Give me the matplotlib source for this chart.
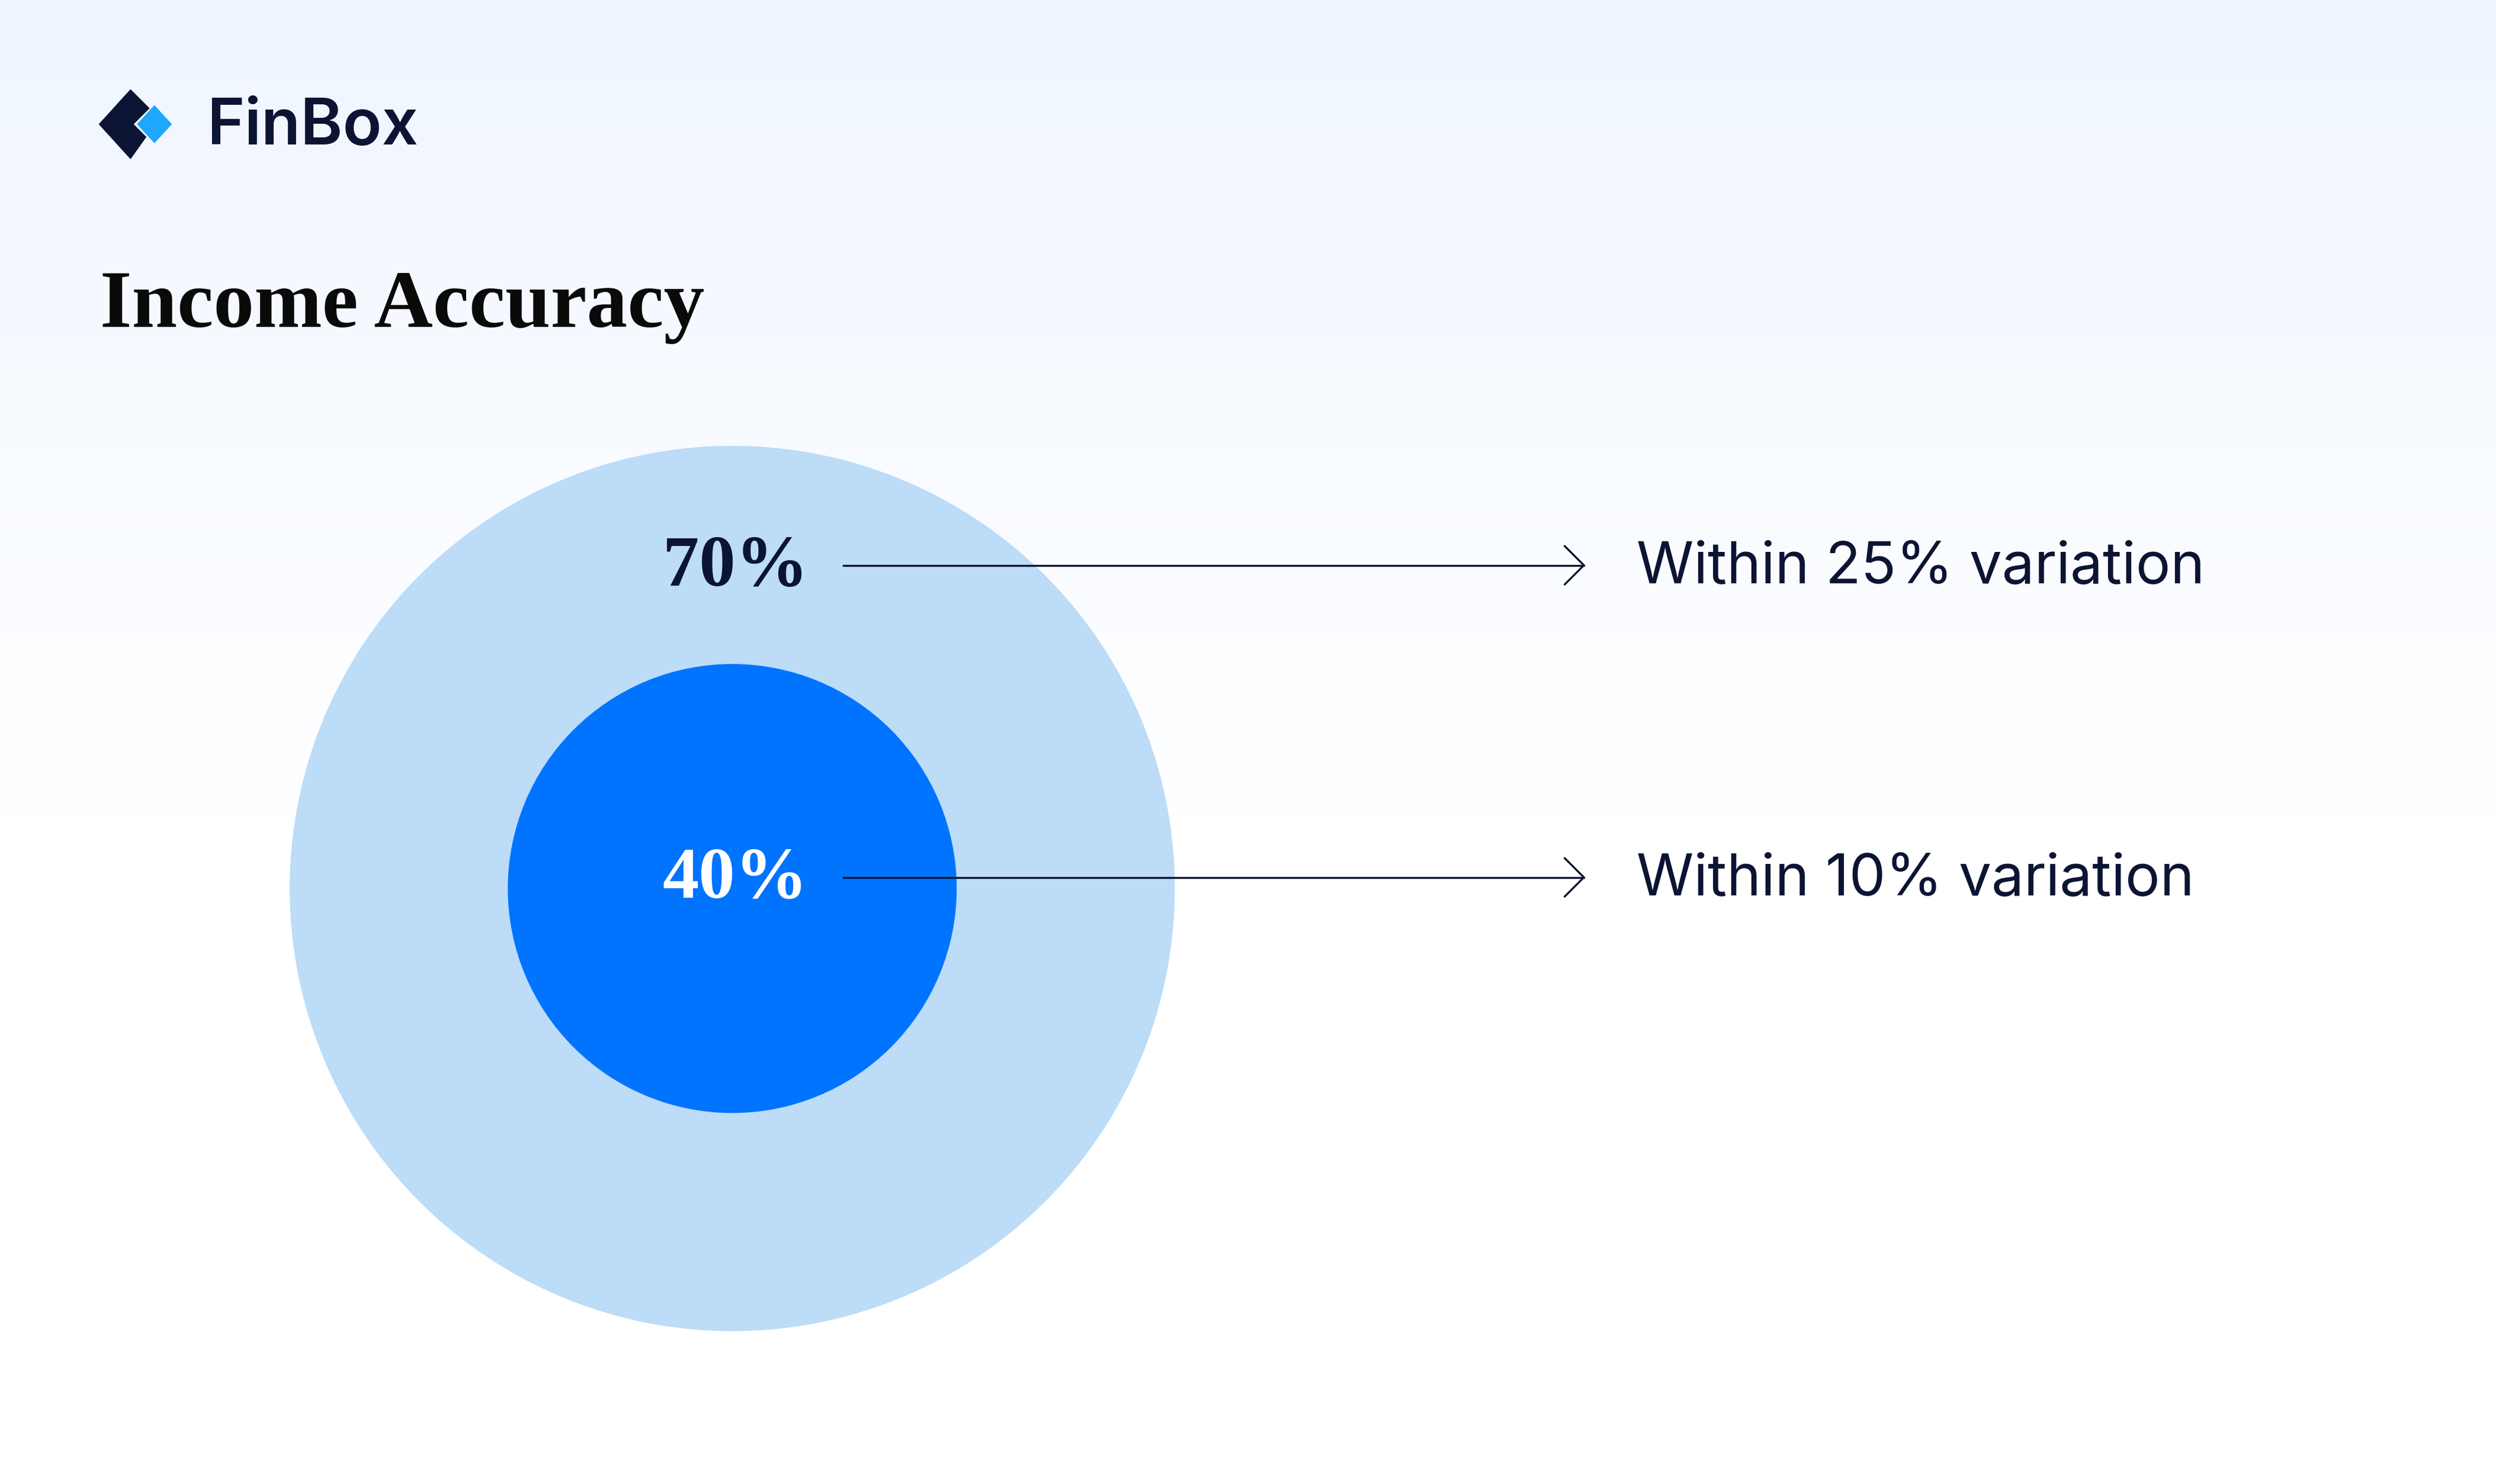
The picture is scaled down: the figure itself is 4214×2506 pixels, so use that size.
import numpy as np
import matplotlib
matplotlib.use("Agg")
import matplotlib.pyplot as plt
from matplotlib.patches import Circle, Polygon

title = "Income Accuracy"
brand = "FinBox"
values = ["70%", "40%"]
descriptions = ["Within 25% variation", "Within 10% variation"]

W, H = 1568, 932
fig = plt.figure(figsize=(4214/300, 2506/300), dpi=300)
ax = fig.add_axes([0, 0, 1, 1])
ax.set_xlim(0, W); ax.set_ylim(H, 0); ax.axis("off")

g = np.linspace(0, 1, 200)[:, None]
top = np.array([0.94, 0.965, 1.0]); bot = np.array([1, 1, 1])
t = np.clip(g / 0.55, 0, 1)
img = (top * (1 - t)[..., None] + bot * t[..., None]) * np.ones((1, 2, 1))
ax.imshow(img, extent=[0, W, H, 0], aspect="auto", zorder=0)

navy = "#0b1433"
cx, cy = 460, 558
radii = [278, 141]
colors = ["#bcdcf8", "#0074ff"]
label_y = [355, 551]
txt_colors = [navy, "white"]
for r, c in zip(radii, colors):
    ax.add_patch(Circle((cx, cy), r, color=c, zorder=1, lw=0))
for v, d, y, tc in zip(values, descriptions, label_y, txt_colors):
    ax.text(cx + 2, y + 2, v, ha="center", va="center", fontsize=29.5, fontweight="bold",
            family="Liberation Serif", color=tc, zorder=3)
    ax.plot([530, 995], [y, y], color=navy, lw=0.8, zorder=2)
    ax.plot([983, 995, 983], [y - 12, y, y + 12], color=navy, lw=0.8, zorder=2)
    ax.text(1028, y + 2, d, ha="left", va="center", fontsize=23.5, family="Inter",
            color=navy, zorder=3)

ax.text(63, 193, title, ha="left", va="center", fontsize=33, fontweight="bold",
        family="Liberation Serif", color="#0a0a0a")
ax.text(130, 80, brand, ha="left", va="center", fontsize=26, fontweight="semibold",
        family="Inter", color=navy)
ax.add_patch(Polygon([[62, 78], [82, 56], [94, 68], [84, 78], [92, 86], [82, 100]],
                     closed=True, color=navy, lw=0))
ax.add_patch(Polygon([[86, 78], [97, 66], [108, 78], [97, 90]], closed=True,
                     color="#1ea7fd", lw=0))

fig.savefig("out.png", dpi=300)
